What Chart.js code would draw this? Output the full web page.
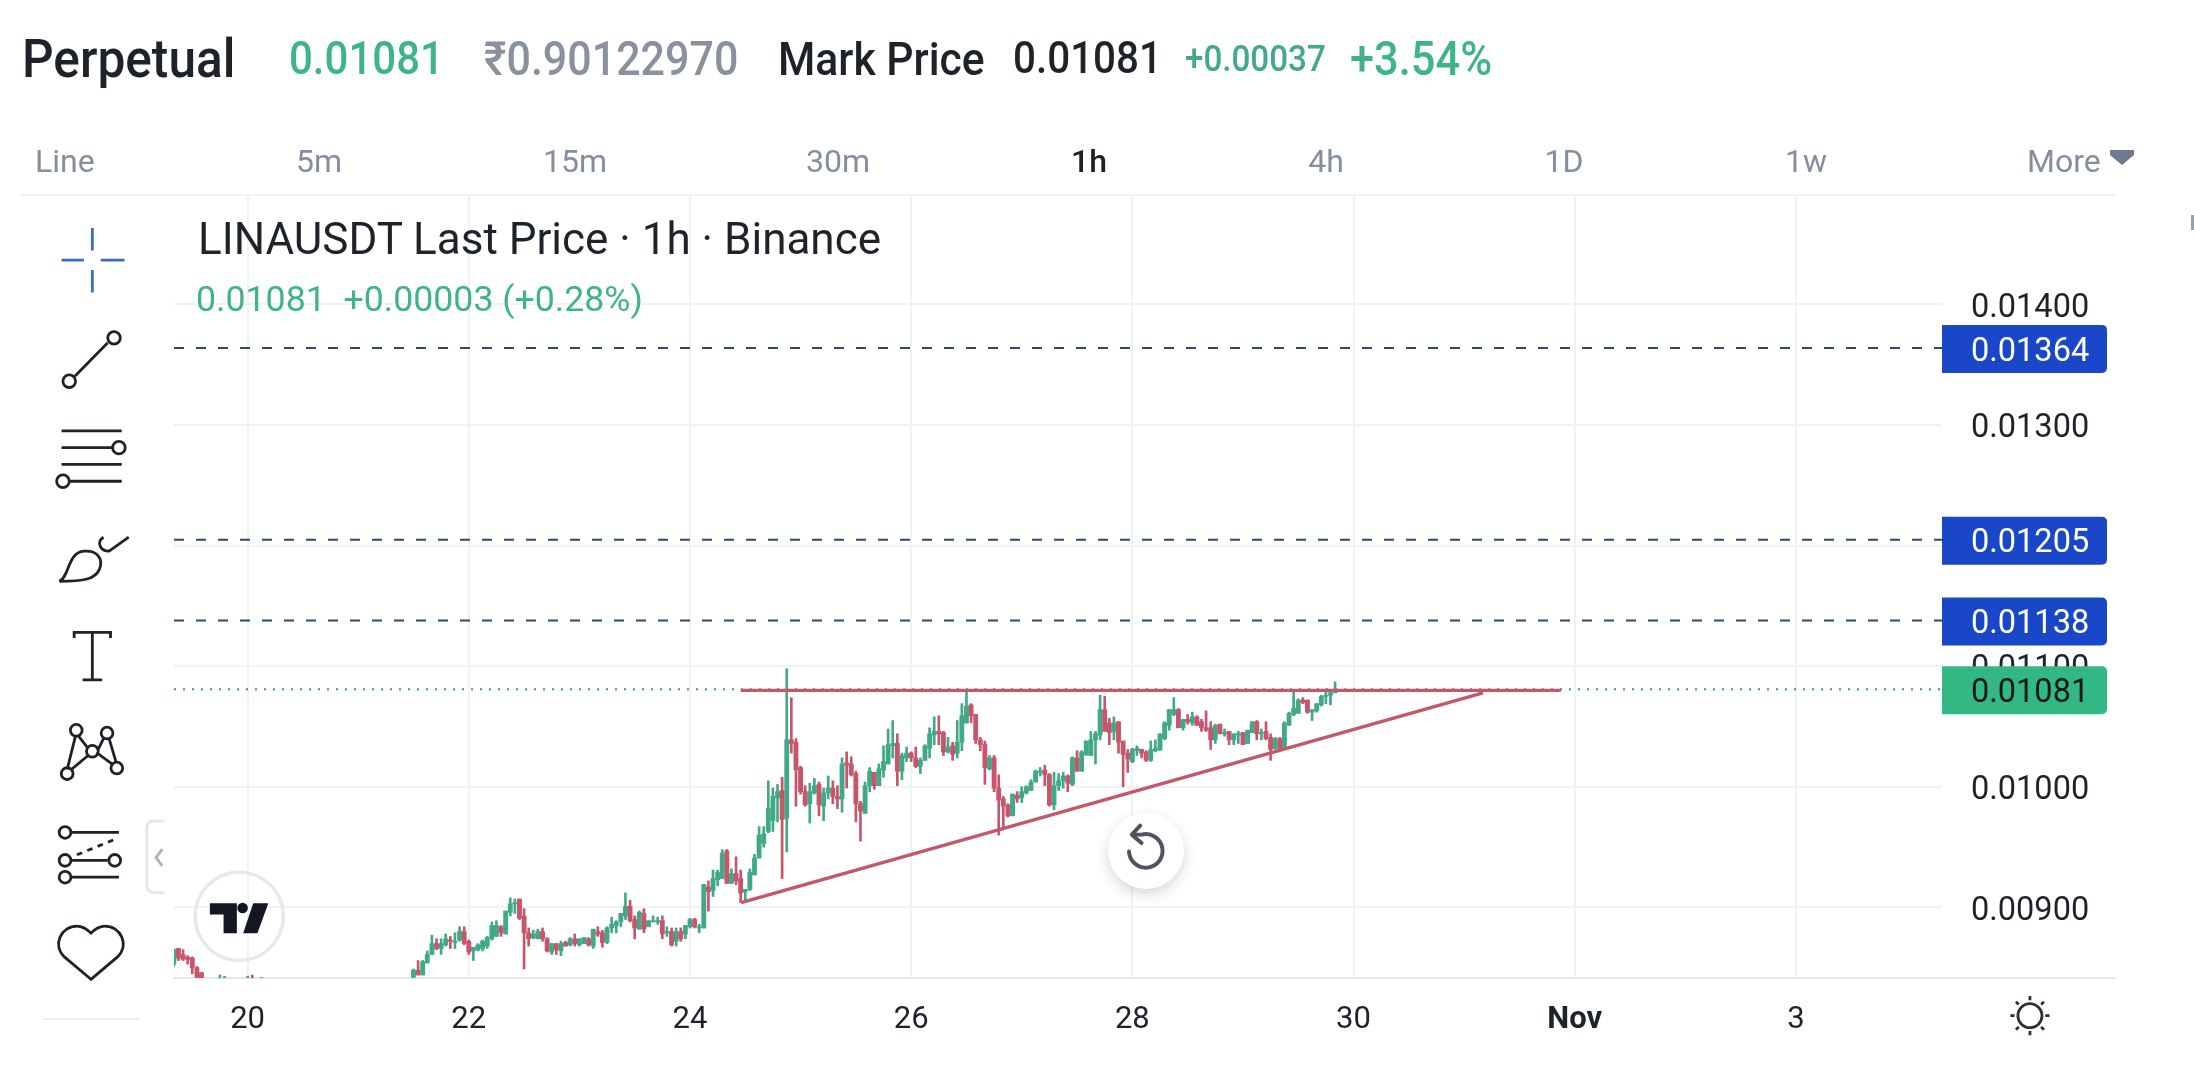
<!DOCTYPE html>
<html>
<head>
<meta charset="utf-8">
<title>LINAUSDT</title>
<script src="https://cdn.jsdelivr.net/npm/chart.js@4/dist/chart.umd.min.js"></script>
<style>
  html, body { margin: 0; background: #fff; width: 2194px; height: 1080px; overflow: hidden; }
  body { font-family: Roboto, sans-serif; position: relative; }
  #chart { position: absolute; left: 0; top: 0; }
  .t { position: absolute; white-space: pre; transform: translateY(-50%); line-height: 1; }
  .c { transform: translate(-50%, -50%); }
  .head { font-weight: 500; font-size: 46px; transform: translateY(-50%) scaleY(1.1); }
  .tab { font-size: 32px; color: #848e9c; top: 161px; }
  .dark { color: #1e2329; }
  .green { color: #3fb488; }
  .rule { position: absolute; }
  #overlay { position: absolute; left: 0; top: 0; pointer-events: none; }
  #undo { position: absolute; left: 1108px; top: 813px; width: 76px; height: 76px; border-radius: 50%; background: #fff; box-shadow: 0 5px 14px rgba(0,0,0,.16); }
</style>
</head>
<body>
<canvas id="chart" width="2194" height="1080"></canvas>

<div class="t head dark" style="left:22px;top:59px;font-size:49.6px">Perpetual</div>
<div class="t head green" style="left:289px;top:59px;font-size:42px">0.01081</div>
<div class="t head" style="left:484px;top:59px;font-size:43px;color:#8a919e">₹0.90122970</div>
<div class="t head dark" style="left:778px;top:59px;font-size:42.7px">Mark Price</div>
<div class="t head dark" style="left:1013px;top:59px;font-size:40.4px">0.01081</div>
<div class="t head" style="left:1185px;top:58px;font-size:33.2px;color:#42a98a">+0.00037</div>
<div class="t head green" style="left:1350px;top:59px;font-size:43.4px">+3.54%</div>

<div class="t tab" style="left:35px">Line</div>
<div class="t tab c" style="left:319px">5m</div>
<div class="t tab c" style="left:575px">15m</div>
<div class="t tab c" style="left:838px">30m</div>
<div class="t tab c dark" style="left:1089px;font-weight:500">1h</div>
<div class="t tab c" style="left:1326px">4h</div>
<div class="t tab c" style="left:1564px">1D</div>
<div class="t tab c" style="left:1806px">1w</div>
<div class="t tab" style="left:2027px">More</div>

<div class="t dark" style="left:198px;top:239px;font-size:44px">LINAUSDT Last Price · 1h · Binance</div>
<div class="t green" style="left:196px;top:300px;font-size:35.7px">0.01081  +0.00003 (+0.28%)</div>

<div class="rule" style="left:20px;top:194px;width:2096px;height:2px;background:#f1f2f3"></div>
<div class="rule" style="left:1942px;top:977px;width:174px;height:2px;background:#e4e6ea"></div>
<div class="rule" style="left:42px;top:1018px;width:98px;height:2px;background:#eeeff1"></div>
<div class="rule" style="left:2191px;top:215px;width:3px;height:15px;background:#9aa0a8"></div>
<div id="undo"></div>

<svg id="overlay" width="2194" height="1080" viewBox="0 0 2194 1080" fill="none">
  <polygon points="2110,150 2134,150 2134,155 2122,165 2110,155" fill="#6f7a8c"/>
  <g transform="scale(1.399)" stroke="#1e2329" stroke-width="2">
    <!-- crosshair -->
    <g stroke="#3b6cc4">
      <path d="M44 186H60M72 186H89M66 163V179M66 193V209"/>
    </g>
    <!-- trend line -->
    <path d="M53.5 269L77 245"/>
    <circle cx="49.5" cy="272.5" r="4.5"/><circle cx="81.5" cy="241.5" r="4.5"/>
    <!-- parallel lines -->
    <path d="M44 308H87M44 320H81M44 332H87M50 344H87"/>
    <circle cx="85" cy="320" r="4.5"/><circle cx="45" cy="344" r="4.5"/>
    <!-- brush -->
    <path d="M42.5 415.5C50 412 48 395 60 394C70 393 74 400 71 407C68 414 60 415.5 42.5 415.5Z"/>
    <path d="M74 384C69 387 71 394 78 394L92 384"/>
    <!-- text -->
    <path d="M53 456V452H79V456M66 452V486M59 486H73"/>
    <!-- pattern -->
    <path d="M48 550L54 526M51 550L63 540M56 526L63 535M70 536L74 528M69 538L80 546M78 528L83 545"/>
    <circle cx="48" cy="553" r="4.2"/><circle cx="54.5" cy="522" r="4.2"/><circle cx="66" cy="537" r="4.2"/><circle cx="76.5" cy="524" r="4.2"/><circle cx="83.5" cy="549" r="4.2"/>
    <!-- fib -->
    <path d="M51 595H85M51 615H77M51 627H85"/>
    <path d="M55 611L82 600" stroke-dasharray="4 4"/>
    <circle cx="46.5" cy="595" r="4.2"/><circle cx="46.5" cy="615" r="4.2"/><circle cx="82" cy="615" r="4.2"/><circle cx="46.5" cy="627" r="4.2"/>
    <!-- heart -->
    <path d="M65 700L46 684C37 675 44 662 55 662C60 662 63 665 65 667C67 665 70 662 75 662C86 662 93 675 84 684Z"/>
    <!-- collapse tab -->
    <path d="M117 587H110Q105 587 105 592V633Q105 638 110 638H117" stroke="#e3e5e8"/>
    <path d="M116 607L111.5 613L116 619" stroke="#a9b4bd"/>
    <!-- tradingview logo -->
    <circle cx="171" cy="655" r="31.5" stroke="#e7e8ea" stroke-width="2.4"/>
    <g stroke="none" fill="#131722">
      <path d="M150 645.6H169.3V667H159.8V653.6H150Z"/>
      <circle cx="173.4" cy="649" r="3.8"/>
      <path d="M181 645.6H191.8L184 667H173.8Z"/>
    </g>
    <!-- undo -->
    <g transform="translate(819 607.6)" stroke="#50535e" stroke-width="2.8" stroke-linecap="round" stroke-linejoin="round">
      <path d="M-12 1A12 12 0 1 0 -3 -11L-10 -11M-4 -17.4L-10 -11L-3 -5"/>
    </g>
    <!-- theme -->
    <g transform="translate(1451 726)" stroke="#2b3139">
      <circle r="8.6"/>
      <path d="M0 -14V-11M0 11V14M-14 0H-11M11 0H14M-10 -10L-8 -8M8 8L10 10M-10 10L-8 8M8 -8L10 -10"/>
    </g>
  </g>
</svg>

<script>
// prices are in units of 0.00001 USDT
const priceUnit = 0.00001;

// the few candles that poke above the bottom edge on the left
const earlyHours = [-16, -15, -14, -13, -12, -11, -10, -6, -5, 0, 1, 3];
const earlyOpens = [853, 866, 861, 859, 858, 850, 846, 835, 835, 835, 838, 835];
const earlyHighs = [866, 866, 865, 860, 859, 851, 846, 844, 843, 843, 844, 842];
const earlyLows = [851, 856, 856, 853, 845, 842, 838, 833, 833, 833, 833, 833];
const earlyCloses = [865, 858, 857, 857, 850, 842, 838, 838, 838, 838, 835, 838];

// hourly candles from hour 36 (hours counted from 20 Oct 00:00)
const mainStartHour = 36;
const opens = [
  842, 848, 844, 854, 861, 870, 866, 869, 873, 871,
  873, 880, 872, 864, 865, 866, 868, 874, 876, 884,
  878, 896, 903, 907, 893, 879, 875, 874, 880, 874,
  863, 870, 864, 871, 869, 874, 869, 870, 874, 868,
  880, 879, 871, 883, 885, 888, 893, 901, 890, 882,
  895, 884, 888, 888, 889, 879, 880, 872, 880, 878,
  884, 890, 883, 883, 917, 914, 923, 924, 947, 920,
  928, 924, 913, 915, 927, 941, 953, 963, 972, 991,
  997, 974, 1039, 1037, 1016, 996, 986, 995, 1002, 984,
  995, 999, 992, 990, 1020, 1019, 1011, 986, 978, 1001,
  1012, 1001, 1014, 1019, 1034, 1036, 1013, 1024, 1028, 1024,
  1017, 1022, 1032, 1043, 1046, 1045, 1029, 1034, 1028, 1037,
  1053, 1068, 1060, 1039, 1035, 1015, 1024, 999, 990, 985,
  976, 993, 991, 995, 997, 1004, 1012, 1014, 1010, 985,
  1001, 1005, 1009, 1002, 1024, 1013, 1027, 1026, 1039, 1043,
  1064, 1053, 1046, 1054, 1038, 1028, 1021, 1030, 1031, 1029,
  1022, 1030, 1031, 1040, 1051, 1060, 1064, 1049, 1056, 1053,
  1058, 1054, 1049, 1049, 1039, 1052, 1044, 1046, 1039, 1043,
  1045, 1036, 1045, 1054, 1044, 1046, 1041, 1032, 1040, 1032,
  1051, 1060, 1061, 1072, 1072, 1062, 1063, 1068, 1075, 1076, 1078,
];
const highs = [
  849, 856, 856, 864, 877, 874, 874, 878, 876, 879,
  884, 884, 873, 867, 870, 873, 876, 888, 889, 885,
  897, 908, 907, 907, 899, 883, 881, 882, 883, 875,
  870, 870, 872, 872, 875, 878, 874, 875, 875, 882,
  884, 881, 884, 892, 889, 895, 912, 906, 893, 897,
  899, 889, 893, 892, 893, 884, 883, 883, 883, 885,
  891, 891, 886, 919, 922, 931, 931, 948, 948, 932,
  942, 931, 915, 932, 944, 967, 967, 1005, 999, 1002,
  1008, 1098, 1074, 1040, 1017, 1001, 1003, 1007, 1004, 999,
  1009, 1005, 1001, 1024, 1029, 1025, 1013, 988, 1004, 1016,
  1012, 1019, 1034, 1048, 1055, 1044, 1028, 1033, 1029, 1033,
  1024, 1035, 1049, 1058, 1059, 1046, 1041, 1037, 1055, 1069,
  1080, 1069, 1060, 1041, 1038, 1026, 1026, 1010, 992, 986,
  994, 996, 1000, 1001, 1006, 1014, 1016, 1018, 1011, 1012,
  1011, 1012, 1010, 1025, 1030, 1030, 1038, 1046, 1046, 1076,
  1075, 1057, 1058, 1054, 1038, 1031, 1032, 1034, 1031, 1030,
  1038, 1039, 1044, 1054, 1064, 1074, 1065, 1056, 1060, 1062,
  1059, 1056, 1063, 1054, 1052, 1052, 1048, 1046, 1044, 1046,
  1045, 1047, 1054, 1055, 1048, 1054, 1044, 1041, 1041, 1054,
  1062, 1079, 1073, 1074, 1072, 1064, 1069, 1076, 1081, 1079, 1087,
];
const lows = [
  842, 844, 844, 854, 861, 865, 861, 868, 866, 866,
  872, 869, 861, 856, 864, 864, 866, 873, 876, 876,
  878, 893, 895, 890, 849, 868, 874, 874, 872, 863,
  861, 861, 860, 868, 868, 868, 868, 870, 868, 866,
  876, 867, 870, 879, 879, 884, 890, 888, 874, 882,
  879, 884, 888, 886, 874, 876, 868, 868, 872, 874,
  883, 883, 879, 883, 897, 909, 918, 924, 920, 920,
  919, 904, 906, 914, 927, 941, 950, 962, 963, 971,
  924, 946, 1028, 984, 994, 984, 970, 994, 976, 972,
  990, 986, 982, 979, 999, 1009, 971, 955, 978, 996,
  998, 1001, 1008, 1019, 1024, 1001, 1006, 1021, 1021, 1016,
  1011, 1022, 1024, 1035, 1035, 1026, 1028, 1022, 1024, 1030,
  1053, 1053, 1036, 1030, 1002, 1014, 996, 960, 967, 975,
  976, 987, 987, 994, 997, 1004, 1009, 1001, 984, 981,
  997, 999, 996, 1001, 1013, 1013, 1026, 1026, 1019, 1039,
  1046, 1035, 1039, 1028, 1000, 1012, 1020, 1026, 1024, 1021,
  1021, 1029, 1030, 1039, 1047, 1059, 1049, 1047, 1052, 1051,
  1051, 1046, 1046, 1031, 1036, 1044, 1042, 1035, 1035, 1036,
  1035, 1036, 1045, 1039, 1039, 1039, 1022, 1031, 1031, 1031,
  1051, 1059, 1061, 1069, 1061, 1055, 1062, 1067, 1069, 1068, 1078,
];
const closes = [
  848, 844, 855, 861, 870, 866, 870, 874, 872, 872,
  880, 870, 863, 867, 869, 872, 875, 885, 885, 879,
  897, 903, 904, 891, 879, 874, 878, 880, 874, 864,
  870, 865, 870, 868, 874, 870, 874, 875, 869, 882,
  878, 871, 883, 886, 888, 895, 901, 889, 883, 896,
  882, 889, 889, 889, 878, 880, 869, 880, 874, 885,
  890, 884, 884, 919, 913, 924, 929, 945, 920, 928,
  922, 912, 915, 929, 941, 960, 961, 982, 992, 996,
  973, 1039, 1036, 1014, 996, 985, 996, 1001, 985, 995,
  999, 992, 990, 1019, 1018, 1010, 986, 980, 1001, 1013,
  1001, 1015, 1021, 1035, 1036, 1013, 1026, 1028, 1024, 1017,
  1022, 1034, 1044, 1046, 1044, 1029, 1033, 1027, 1037, 1059,
  1067, 1059, 1039, 1035, 1016, 1024, 999, 989, 984, 976,
  994, 990, 996, 1000, 1004, 1013, 1013, 1010, 985, 1001,
  1005, 1009, 1003, 1024, 1013, 1029, 1038, 1039, 1044, 1064,
  1046, 1045, 1053, 1037, 1027, 1023, 1031, 1032, 1028, 1022,
  1031, 1032, 1044, 1053, 1064, 1064, 1049, 1056, 1054, 1058,
  1051, 1049, 1047, 1039, 1051, 1044, 1045, 1039, 1044, 1044,
  1035, 1047, 1054, 1044, 1045, 1040, 1031, 1040, 1031, 1053,
  1061, 1065, 1072, 1070, 1062, 1064, 1069, 1075, 1076, 1078, 1081,
];

const dayTickHours = [0, 48, 96, 144, 192, 240, 288, 336];
const dayTickLabels = ["20", "22", "24", "26", "28", "30", "Nov", "3"];
const priceTicks = [0.009, 0.01, 0.011, 0.012, 0.013, 0.014];

const alertLevels = [0.01364, 0.01205, 0.01138];
const lastPrice = 0.01081;
// drawn trend lines: [hour, price] ends
const resistanceLine = [[107, 0.0108], [285, 0.0108]];
const supportLine = [[107.1, 0.00904], [268.1, 0.01078]];

const xMin = -15.97;
const xMax = 367.7;
const upColor = "#41a987";
const downColor = "#c7566a";

const hours = earlyHours.concat(opens.map((_, i) => mainStartHour + i));
const allOpens = earlyOpens.concat(opens);
const allHighs = earlyHighs.concat(highs);
const allLows = earlyLows.concat(lows);
const allCloses = earlyCloses.concat(closes);

const candleColors = hours.map((_, i) => (allCloses[i] >= allOpens[i] ? upColor : downColor));
const wickData = hours.map((h, i) => ({ x: h, y: [allLows[i] * priceUnit, allHighs[i] * priceUnit] }));
const bodyData = hours.map((h, i) => ({ x: h, y: [allOpens[i] * priceUnit, allCloses[i] * priceUnit] }));

const levelDataset = (price, color, dash, order) => ({
  type: "line",
  data: [{ x: xMin, y: price }, { x: xMax, y: price }],
  borderColor: color,
  borderWidth: 2,
  borderDash: dash,
  pointRadius: 0,
  order,
});

const trendDataset = (ends) => ({
  type: "line",
  data: ends.map(([x, y]) => ({ x, y })),
  borderColor: "#c4586a",
  borderWidth: 3.4,
  pointRadius: 0,
  order: 1,
});

// price labels and badges: the chart's own tick text sits a few px too high
const priceLabelPlugin = {
  id: "priceLabels",
  afterDraw(chart) {
    const { ctx, scales } = chart;
    ctx.save();
    ctx.font = "32.5px Roboto";
    ctx.textAlign = "left";
    ctx.textBaseline = "middle";
    ctx.fillStyle = "#1e2329";
    priceTicks.forEach((p) => {
      ctx.fillText(p.toFixed(5), 1971, scales.y.getPixelForValue(p) + 4);
    });
    const drawBadge = (price, fill, textColor) => {
      const y = scales.y.getPixelForValue(price);
      ctx.fillStyle = fill;
      ctx.beginPath();
      ctx.roundRect(1942, y - 23, 165, 48, [0, 5, 5, 0]);
      ctx.fill();
      ctx.fillStyle = textColor;
      ctx.fillText(price.toFixed(5), 1971, y + 4.5);
    };
    alertLevels.forEach((p) => drawBadge(p, "#1a47c7", "#ffffff"));
    drawBadge(lastPrice, "#33b883", "#0d1a14");
    ctx.restore();
  },
};

new Chart(document.querySelector("#chart"), {
  type: "bar",
  data: {
    datasets: [
      { data: wickData, backgroundColor: candleColors, barThickness: 2, grouped: false, order: 3 },
      { data: bodyData, backgroundColor: candleColors, barThickness: 4.2, grouped: false, order: 2 },
      trendDataset(resistanceLine),
      trendDataset(supportLine),
      ...alertLevels.map((p) => levelDataset(p, "#2a4a73", [10, 12], 4)),
      levelDataset(lastPrice, "#3a9c80", [2, 7], 4),
    ],
  },
  plugins: [priceLabelPlugin],
  options: {
    responsive: false,
    animation: false,
    layout: { padding: { left: 174, top: 195, right: 0, bottom: 0 } },
    plugins: { legend: { display: false }, tooltip: { enabled: false } },
    scales: {
      x: {
        type: "linear",
        offset: false,
        min: xMin,
        max: xMax,
        afterBuildTicks(scale) {
          scale.ticks = dayTickHours.map((value) => ({ value }));
        },
        afterFit(scale) {
          scale.height = 102;
        },
        grid: { color: "#f1f2f4", lineWidth: 2, drawTicks: false, offset: false },
        border: { color: "#e4e6ea", width: 2 },
        ticks: {
          autoSkip: false,
          maxRotation: 0,
          padding: 24,
          color: "#1e2329",
          font: (ctx) => ({
            family: "Roboto",
            size: 31,
            weight: ctx.tick && ctx.tick.value === dayTickHours[6] ? "bold" : "normal",
          }),
          callback: (value) => dayTickLabels[dayTickHours.indexOf(value)],
        },
      },
      y: {
        position: "right",
        min: 0.008415,
        max: 0.014908,
        afterBuildTicks(scale) {
          scale.ticks = priceTicks.map((value) => ({ value }));
        },
        afterFit(scale) {
          scale.width = 252;
        },
        grid: { color: "#f1f2f4", lineWidth: 2, drawTicks: false },
        border: { display: false },
        ticks: { display: false },
      },
    },
  },
});
</script>
</body>
</html>
